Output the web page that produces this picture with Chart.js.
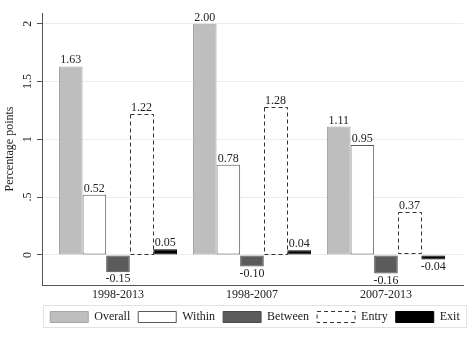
<!DOCTYPE html>
<html><head><meta charset="utf-8">
<script src="https://cdn.jsdelivr.net/npm/chart.js@4/dist/chart.umd.min.js"></script>
<style>html,body{margin:0;padding:0;background:#fff;} canvas{display:block;}</style>
</head><body>
<canvas id="c" width="474" height="345"></canvas>
<script>
const categories = ['1998-2013', '1998-2007', '2007-2013'];
const overall  = [1.63, 2.00, 1.11];
const within   = [0.52, 0.78, 0.95];
const between  = [-0.15, -0.10, -0.16];
const entry    = [1.22, 1.28, 0.37];
const exitVals = [0.05, 0.04, -0.04];
const yTickValues = [0, 0.5, 1, 1.5, 2];
const seriesNames = ['Overall', 'Within', 'Between', 'Entry', 'Exit'];

const FONT = '"Liberation Serif", "DejaVu Serif", serif';
const LEGEND_CENTER = 255;
const toXY = arr => arr.map((v, i) => ({x: i, y: v}));

const barDecor = {
  id: 'barDecor',
  afterUpdate(chart) {
    const lg = chart.legend;
    if (!lg || !lg.legendHitBoxes || !lg.legendHitBoxes.length) return;
    const hb = lg.legendHitBoxes;
    const l = Math.min(...hb.map(h => h.left));
    const r = Math.max(...hb.map(h => h.left + h.width));
    const dx = LEGEND_CENTER - (l + r) / 2;
    lg.left += dx; lg.right += dx;
    hb.forEach(h => { h.left += dx; });
  },
  beforeDraw(chart) {
    const lg = chart.legend;
    if (!lg || !lg.legendHitBoxes || !lg.legendHitBoxes.length) return;
    const hb = lg.legendHitBoxes;
    const l = Math.min(...hb.map(h => h.left)) - 7;
    const r = Math.max(...hb.map(h => h.left + h.width)) + 7;
    const t = hb[0].top - 6;
    const b = hb[0].top + 11 + 5;
    const ctx = chart.ctx;
    ctx.save();
    ctx.fillStyle = '#fff';
    ctx.fillRect(l, t, r - l, b - t);
    ctx.strokeStyle = '#e3e3e3';
    ctx.lineWidth = 1;
    ctx.strokeRect(Math.round(l) + 0.5, Math.round(t) + 0.5, Math.round(r - l), Math.round(b - t));
    ctx.restore();
  },
  afterDatasetsDraw(chart) {
    const ctx = chart.ctx;
    ctx.save();
    chart.data.datasets.forEach((ds, di) => {
      const meta = chart.getDatasetMeta(di);
      meta.data.forEach((el, i) => {
        const p = el.getProps(['x', 'y', 'base', 'width'], true);
        const left = p.x - p.width / 2;
        const top = Math.min(p.y, p.base);
        const h = Math.abs(p.base - p.y);
        if (ds.dashed) {
          ctx.setLineDash([4, 3]);
          ctx.strokeStyle = ds.borderColor;
          ctx.lineWidth = 1;
          ctx.strokeRect(Math.round(left) + 0.5, Math.round(top) + 0.5, Math.round(p.width) - 1, Math.round(h) - 1);
          ctx.setLineDash([]);
        }
        const v = ds.data[i].y;
        ctx.fillStyle = '#222';
        ctx.font = '12px ' + FONT;
        ctx.textAlign = 'center';
        if (v >= 0) {
          ctx.textBaseline = 'alphabetic';
          ctx.fillText(v.toFixed(2), p.x, p.y - 3);
        } else {
          ctx.textBaseline = 'top';
          ctx.fillText(v.toFixed(2), p.x, p.y + 1);
        }
      });
    });
    ctx.restore();
  }
};

new Chart(document.getElementById('c'), {
  type: 'bar',
  data: {
    datasets: [
      {label: seriesNames[0], data: toXY(overall), backgroundColor: '#bebebe', borderColor: '#a5a5a5', borderWidth: 1, borderSkipped: false},
      {label: seriesNames[1], data: toXY(within), backgroundColor: '#ffffff', borderColor: '#5a5a5a', borderWidth: 1, borderSkipped: false},
      {label: seriesNames[2], data: toXY(between), backgroundColor: '#5b5b5b', borderColor: '#4a4a4a', borderWidth: 1, borderSkipped: false},
      {label: seriesNames[3], data: toXY(entry), backgroundColor: 'rgba(255,255,255,0)', borderColor: '#333333', borderWidth: 0, dashed: true},
      {label: seriesNames[4], data: toXY(exitVals), backgroundColor: '#000000', borderColor: '#000000', borderWidth: 1, borderSkipped: false}
    ]
  },
  options: {
    responsive: false,
    devicePixelRatio: 1,
    animation: false,
    events: [],
    categoryPercentage: 0.8806,
    barPercentage: 1,
    layout: {padding: {top: 13, right: 11, bottom: 12, left: 0}},
    scales: {
      x: {
        type: 'linear',
        min: -0.567, max: 2.575,
        offset: false,
        afterBuildTicks: s => { s.ticks = categories.map((c, i) => ({value: i})); },
        afterFit: s => { s.height = 18; },
        grid: {display: false, drawTicks: false, offset: false},
        border: {display: true, color: '#555', width: 1},
        ticks: {
          padding: 3,
          font: {family: FONT, size: 12},
          color: '#222',
          maxRotation: 0, minRotation: 0,
          callback: v => categories[v]
        }
      },
      y: {
        type: 'linear',
        min: -0.26, max: 2.092,
        afterBuildTicks: s => { s.ticks = yTickValues.map(v => ({value: v})); },
        afterFit: s => { s.width = 42; },
        grid: {color: '#ebebeb', tickColor: '#555', tickLength: 5, lineWidth: 1},
        border: {display: true, color: '#555', width: 1},
        ticks: {
          padding: 2,
          minRotation: 90, maxRotation: 90,
          crossAlign: 'center',
          font: {family: FONT, size: 12},
          color: '#222',
          callback: v => (v === 0 ? '0' : String(v).replace(/^0\./, '.'))
        },
        title: {display: true, text: 'Percentage points', font: {family: FONT, size: 12}, color: '#222', padding: {top: 3, bottom: 0}}
      }
    },
    plugins: {
      tooltip: {enabled: false},
      legend: {
        position: 'bottom',
        labels: {
          boxWidth: 38, boxHeight: 11, padding: 8,
          font: {family: FONT, size: 12},
          color: '#222',
          generateLabels(chart) {
            const items = Chart.defaults.plugins.legend.labels.generateLabels(chart);
            items.forEach((it, i) => {
              const ds = chart.data.datasets[i];
              it.lineWidth = 1;
              it.strokeStyle = ds.borderColor;
              if (ds.dashed) it.lineDash = [4, 3];
            });
            return items;
          }
        }
      }
    }
  },
  plugins: [barDecor]
});
</script>
</body></html>
